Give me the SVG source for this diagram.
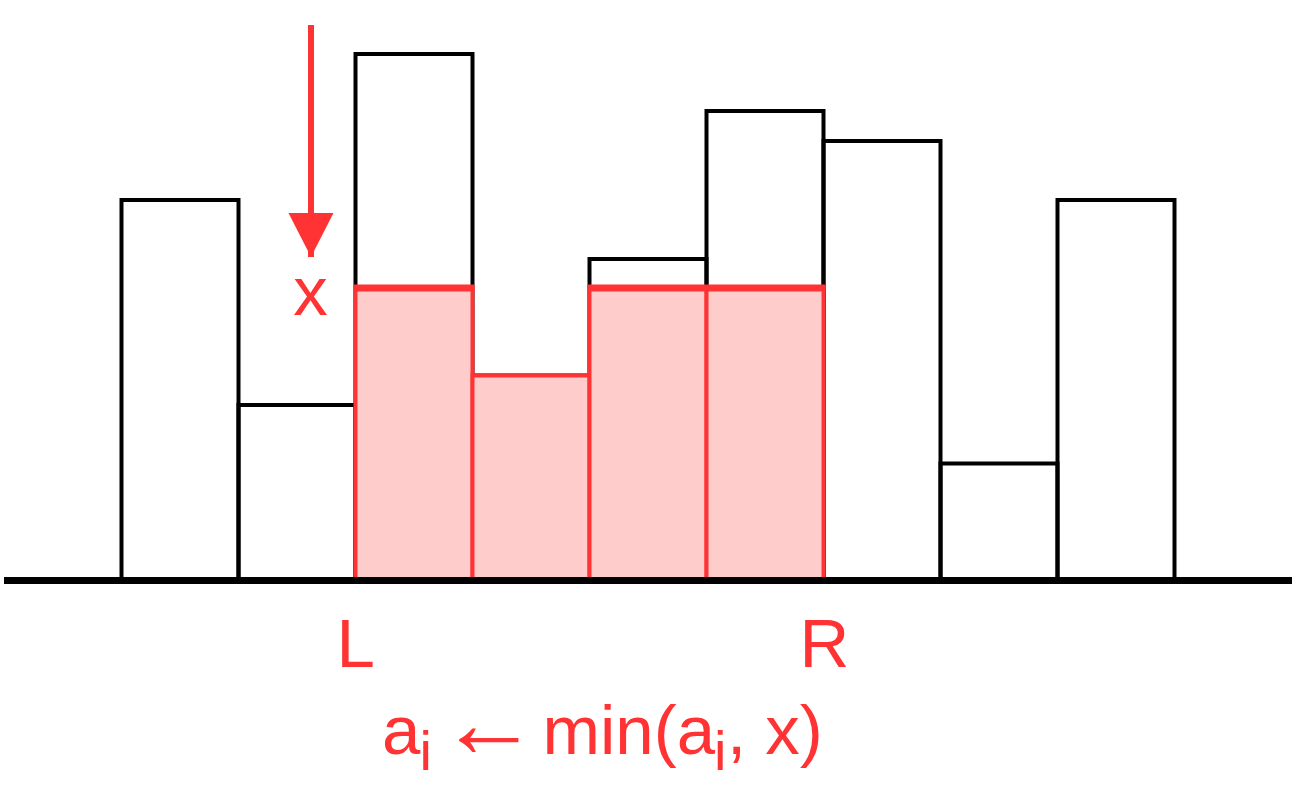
<svg xmlns="http://www.w3.org/2000/svg" width="1300" height="805" viewBox="0 0 1300 805">
  <style>
    .bar { fill: none; stroke: #000; stroke-width: 4; }
    .hl { fill: #ffcccc; stroke: #ff3333; stroke-width: 4; }
    .xline { stroke: #ff3333; stroke-width: 7; fill: none; }
    .lbl { font-family: "Liberation Sans", Arial, sans-serif; fill: #ff3333; font-size: 69px; }
    .sub { font-size: 56px; }
    .arr { font-size: 100px; }
  </style>
  <defs>
    <marker id="ah" markerUnits="userSpaceOnUse" markerWidth="46" markerHeight="46" refX="44" refY="22.5" orient="auto" viewBox="0 0 46 46">
      <path d="M0,0 L44,22.5 L0,45 Z" fill="#ff3333"/>
    </marker>
  </defs>
  <rect width="1300" height="805" fill="#fff"/>

  <g id="bar1"><rect class="bar" x="121.5" y="200" width="117" height="380.5"/></g>
  <g id="bar2"><rect class="bar" x="238.5" y="405" width="117" height="175.5"/></g>
  <g id="bar3"><rect class="bar" x="355.5" y="54" width="117" height="526.5"/></g>
  <g id="bar4"><rect class="bar" x="472.5" y="375.5" width="117" height="205"/></g>
  <g id="bar5"><rect class="bar" x="589.5" y="259" width="117" height="321.5"/></g>
  <g id="bar6"><rect class="bar" x="706.5" y="111" width="117" height="469.5"/></g>
  <g id="bar7"><rect class="bar" x="823.5" y="141" width="117" height="439.5"/></g>
  <g id="bar8"><rect class="bar" x="940.5" y="463.5" width="117" height="117"/></g>
  <g id="bar9"><rect class="bar" x="1057.5" y="200" width="117" height="380.5"/></g>

  <g id="clipped">
    <rect class="hl" x="355.5" y="288" width="117" height="292.5"/>
    <rect class="hl" x="472.5" y="375.5" width="117" height="205"/>
    <rect class="hl" x="589.5" y="288" width="117" height="292.5"/>
    <rect class="hl" x="706.5" y="288" width="117" height="292.5"/>
    <line class="xline" x1="353.5" y1="288" x2="474.5" y2="288"/>
    <line class="xline" x1="587.5" y1="288" x2="825.5" y2="288"/>
  </g>

  <g id="baseline"><line x1="4" y1="580.5" x2="1292" y2="580.5" stroke="#000" stroke-width="7"/></g>

  <g id="connectors">
    <line x1="311" y1="25" x2="311" y2="257" stroke="#ff3333" stroke-width="6" marker-end="url(#ah)"/>
  </g>

  <g id="labels">
    <text class="lbl" x="310.5" y="315" text-anchor="middle">x</text>
    <text class="lbl" x="336.5" y="667">L</text>
    <text class="lbl" x="799.5" y="667">R</text>
    <text class="lbl" x="382" y="754">a</text>
    <text class="lbl sub" x="419.5" y="770">i</text>
    <text class="lbl arr" x="439" y="757">←</text>
    <text class="lbl" x="542.5" y="754">min(a</text>
    <text class="lbl sub" x="714" y="770">i</text>
    <text class="lbl" x="727" y="754">, x)</text>
  </g>
</svg>
